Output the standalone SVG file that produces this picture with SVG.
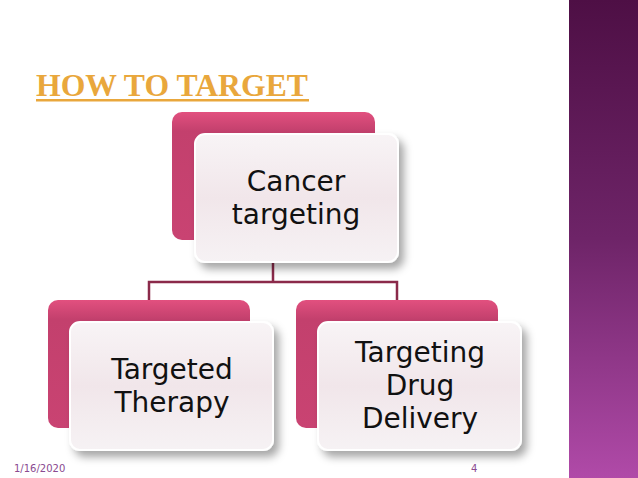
<svg xmlns="http://www.w3.org/2000/svg" width="638" height="478" viewBox="0 0 638 478">
<defs>
<linearGradient id="band" x1="0" y1="0" x2="0" y2="1"><stop offset="0" stop-color="#4e0f45"/><stop offset="0.5" stop-color="#6e2468"/><stop offset="1" stop-color="#b04aa8"/></linearGradient>
<linearGradient id="pink" x1="0" y1="0" x2="0" y2="1"><stop offset="0" stop-color="#e2507f"/><stop offset="0.15" stop-color="#c3406d"/><stop offset="1" stop-color="#c94372"/></linearGradient>
<linearGradient id="card" x1="0" y1="0" x2="0" y2="1"><stop offset="0" stop-color="#f8f4f6"/><stop offset="0.5" stop-color="#f1e6ea"/><stop offset="1" stop-color="#f6f2f4"/></linearGradient>
<filter id="sh" x="-20%" y="-20%" width="150%" height="150%"><feDropShadow dx="5" dy="6" stdDeviation="4" flood-color="#000" flood-opacity="0.35"/></filter>
</defs>
<style>
.p{fill:url(#pink)}
.c{fill:url(#card);stroke:#fff;stroke-width:2;filter:url(#sh)}
.t{font-family:"DejaVu Sans",sans-serif;font-size:28px;fill:#111;text-anchor:middle}
.f{font-family:"DejaVu Sans",sans-serif;font-size:10px;fill:#8a4a90}
</style>
<rect width="638" height="478" fill="#fff"/>
<rect x="569" y="0" width="69" height="478" fill="url(#band)"/>
<text x="36" y="96" font-family="Liberation Serif,serif" font-weight="bold" font-size="31" fill="#e9a73c" textLength="272" lengthAdjust="spacingAndGlyphs">HOW TO TARGET</text>
<rect x="36" y="99" width="273" height="2.5" fill="#e9a73c"/>
<g id="connectors" fill="none" stroke="#8b2a4a" stroke-width="2.5">
<path d="M273 262V282M149 300V282H397V300"/>
</g>
<g id="n1"><rect class="p" x="172" y="112" width="203" height="128" rx="10"/><rect class="c" x="195" y="134" width="203" height="128" rx="10"/>
<text class="t" x="296" y="191">Cancer</text><text class="t" x="296" y="224">targeting</text></g>
<g id="n2"><rect class="p" x="48" y="300" width="202" height="128" rx="10"/><rect class="c" x="70" y="322" width="203" height="128" rx="10"/>
<text class="t" x="172" y="379">Targeted</text><text class="t" x="172" y="412">Therapy</text></g>
<g id="n3"><rect class="p" x="296" y="300" width="202" height="128" rx="10"/><rect class="c" x="318" y="322" width="203" height="128" rx="10"/>
<text class="t" x="420" y="362">Targeting</text><text class="t" x="420" y="395">Drug</text><text class="t" x="420" y="428">Delivery</text></g>
<text class="f" x="14" y="472">1/16/2020</text>
<text class="f" x="471" y="472" font-family="Liberation Serif,serif">4</text>
</svg>
